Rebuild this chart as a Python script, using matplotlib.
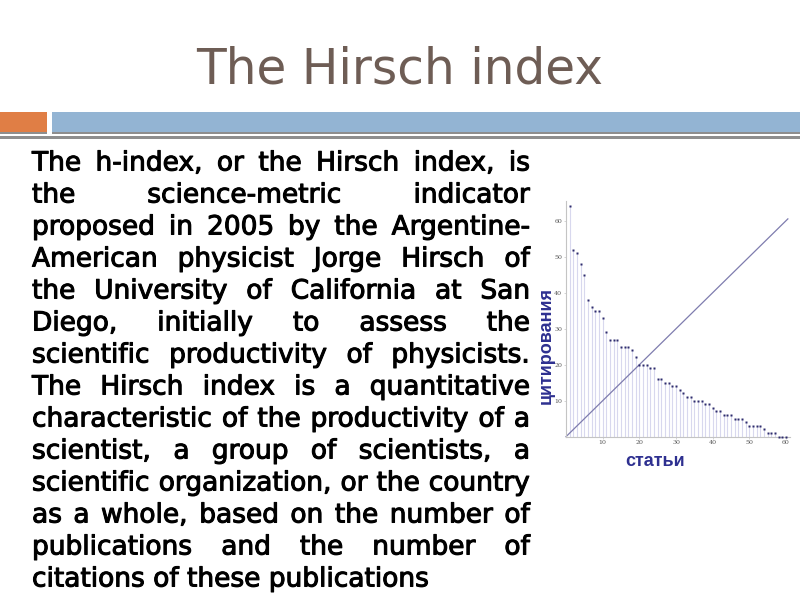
import matplotlib
matplotlib.use("Agg")
import matplotlib.pyplot as plt
from matplotlib.patches import Rectangle
import matplotlib.patheffects as pe

# ---------------- data ----------------
articles = list(range(1, 61))
citations = [64, 52, 51, 48, 45, 38, 36, 35, 35, 33,
             29, 27, 27, 27, 25, 25, 25, 24, 22, 20,
             20, 20, 19, 19, 16, 16, 15, 15, 14, 14,
             13, 12, 11, 11, 10, 10, 10, 9, 9, 8,
             7, 7, 6, 6, 6, 5, 5, 5, 4, 3,
             3, 3, 3, 2, 1, 1, 1, 0, 0, 0]
diag = [0, 60.5]
tick_vals = [10, 20, 30, 40, 50, 60]
tick_labels = ["10", "20", "30", "40", "50", "60"]

title = "The Hirsch index"
body_lines = [
    "The h-index, or the Hirsch index, is",
    "the science-metric indicator",
    "proposed in 2005 by the Argentine-",
    "American physicist Jorge Hirsch of",
    "the University of California at San",
    "Diego, initially to assess the",
    "scientific productivity of physicists.",
    "The Hirsch index is a quantitative",
    "characteristic of the productivity of a",
    "scientist, a group of scientists, a",
    "scientific organization, or the country",
    "as a whole, based on the number of",
    "publications and the number of",
    "citations of these publications",
]
ylabel = "цитирования"
xlabel = "статьи"

W, H = 800, 600
fig = plt.figure(figsize=(8, 6), dpi=100)
fig.patch.set_facecolor("white")

def fx(px):
    return px / W

def fy(py):
    return 1 - py / H

# ---------------- header bars ----------------
def rect(x0, y0, x1, y1, color):
    fig.patches.append(Rectangle((fx(x0), fy(y1)), fx(x1) - fx(x0), fy(y0) - fy(y1),
                                 transform=fig.transFigure, facecolor=color,
                                 edgecolor="none", zorder=1))

rect(0, 112, 46.5, 132, "#E07E45")
rect(52, 112, 800, 132, "#93B4D3")
rect(0, 132, 46.5, 134.3, "#8E8E8E")
rect(52, 132, 800, 134.3, "#8E8E8E")
rect(0, 136, 800, 138.5, "#8E8E8E")

# ---------------- title ----------------
fig.text(fx(400), fy(83.5), title, fontsize=35, color="#6E5D55",
         ha="center", va="baseline", family="DejaVu Sans")

# ---------------- justified body text ----------------
renderer = fig.canvas.get_renderer()
body_family = "DejaVu Sans"
bold_fx = [pe.withStroke(linewidth=0.75, foreground="black")]

def text_width(s, fs):
    t = fig.text(0, 0, s, fontsize=fs, family=body_family)
    w = t.get_window_extent(renderer).width
    t.remove()
    return w

left_px, right_px = 32, 530
box_w = right_px - left_px
ref = max(text_width(l, 10) for l in body_lines[:-1])
fs = 10 * box_w / ref * 0.995

base0, step = 170.5, 32.0
for i, line in enumerate(body_lines):
    y = fy(base0 + i * step)
    words = line.split()
    if i == len(body_lines) - 1 or len(words) == 1:
        fig.text(fx(left_px), y, line, fontsize=fs, family=body_family,
                 color="black", ha="left", va="baseline", path_effects=bold_fx)
        continue
    widths = [text_width(w_, fs) for w_ in words]
    gap = (box_w - sum(widths)) / (len(words) - 1)
    x = left_px
    for w_, ww in zip(words, widths):
        fig.text(fx(x), y, w_, fontsize=fs, family=body_family,
                 color="black", ha="left", va="baseline", path_effects=bold_fx)
        x += ww + gap

# ---------------- chart ----------------
xpu, ypu = 3.667, 3.6
x0px, y0px = 566.0, 436.7
xlim = (-1.0, 61.5)
ylim = (-1.5, 66.5)
lpx = x0px + xlim[0] * xpu
rpx = x0px + xlim[1] * xpu
bpx = y0px - ylim[0] * ypu
tpx = y0px - ylim[1] * ypu
ax = fig.add_axes([fx(lpx), fy(bpx), (rpx - lpx) / W, (bpx - tpx) / H])
ax.set_xlim(*xlim)
ax.set_ylim(*ylim)
ax.patch.set_alpha(0)

ax.vlines(articles, 0, citations, color="#D8D8EE", lw=0.8, zorder=1)
ax.plot(diag, diag, color="#7E7CAE", lw=0.9, zorder=2)
ax.plot(articles, citations, "s", ms=1.7, color="#2E2C6E", mec="none", zorder=3)

for s in ["top", "right"]:
    ax.spines[s].set_visible(False)
ax.spines["left"].set_position(("data", 0))
ax.spines["bottom"].set_position(("data", 0))
ax.spines["left"].set_bounds(0, 65.5)
ax.spines["bottom"].set_bounds(0, 61)
for s in ["left", "bottom"]:
    ax.spines[s].set_color("#C4C4C4")
    ax.spines[s].set_linewidth(0.8)

ax.set_xticks(tick_vals)
ax.set_xticklabels(tick_labels)
ax.set_yticks(tick_vals)
ax.set_yticklabels(tick_labels)
ax.tick_params(axis="both", length=1.5, width=0.5, color="#C4C4C4",
               labelsize=4.5, labelcolor="#555555", pad=1.2)
for lab in ax.get_xticklabels() + ax.get_yticklabels():
    lab.set_family("DejaVu Serif")

fig.text(fx(546), fy(346), ylabel, rotation=90, fontsize=13, fontweight="bold",
         color="#2E3090", ha="center", va="center", family="Liberation Sans")
fig.text(fx(655), fy(462), xlabel, fontsize=13, fontweight="bold",
         color="#2E3090", ha="center", va="center", family="Liberation Sans")

fig.savefig("out.png", dpi=100, facecolor="white")
